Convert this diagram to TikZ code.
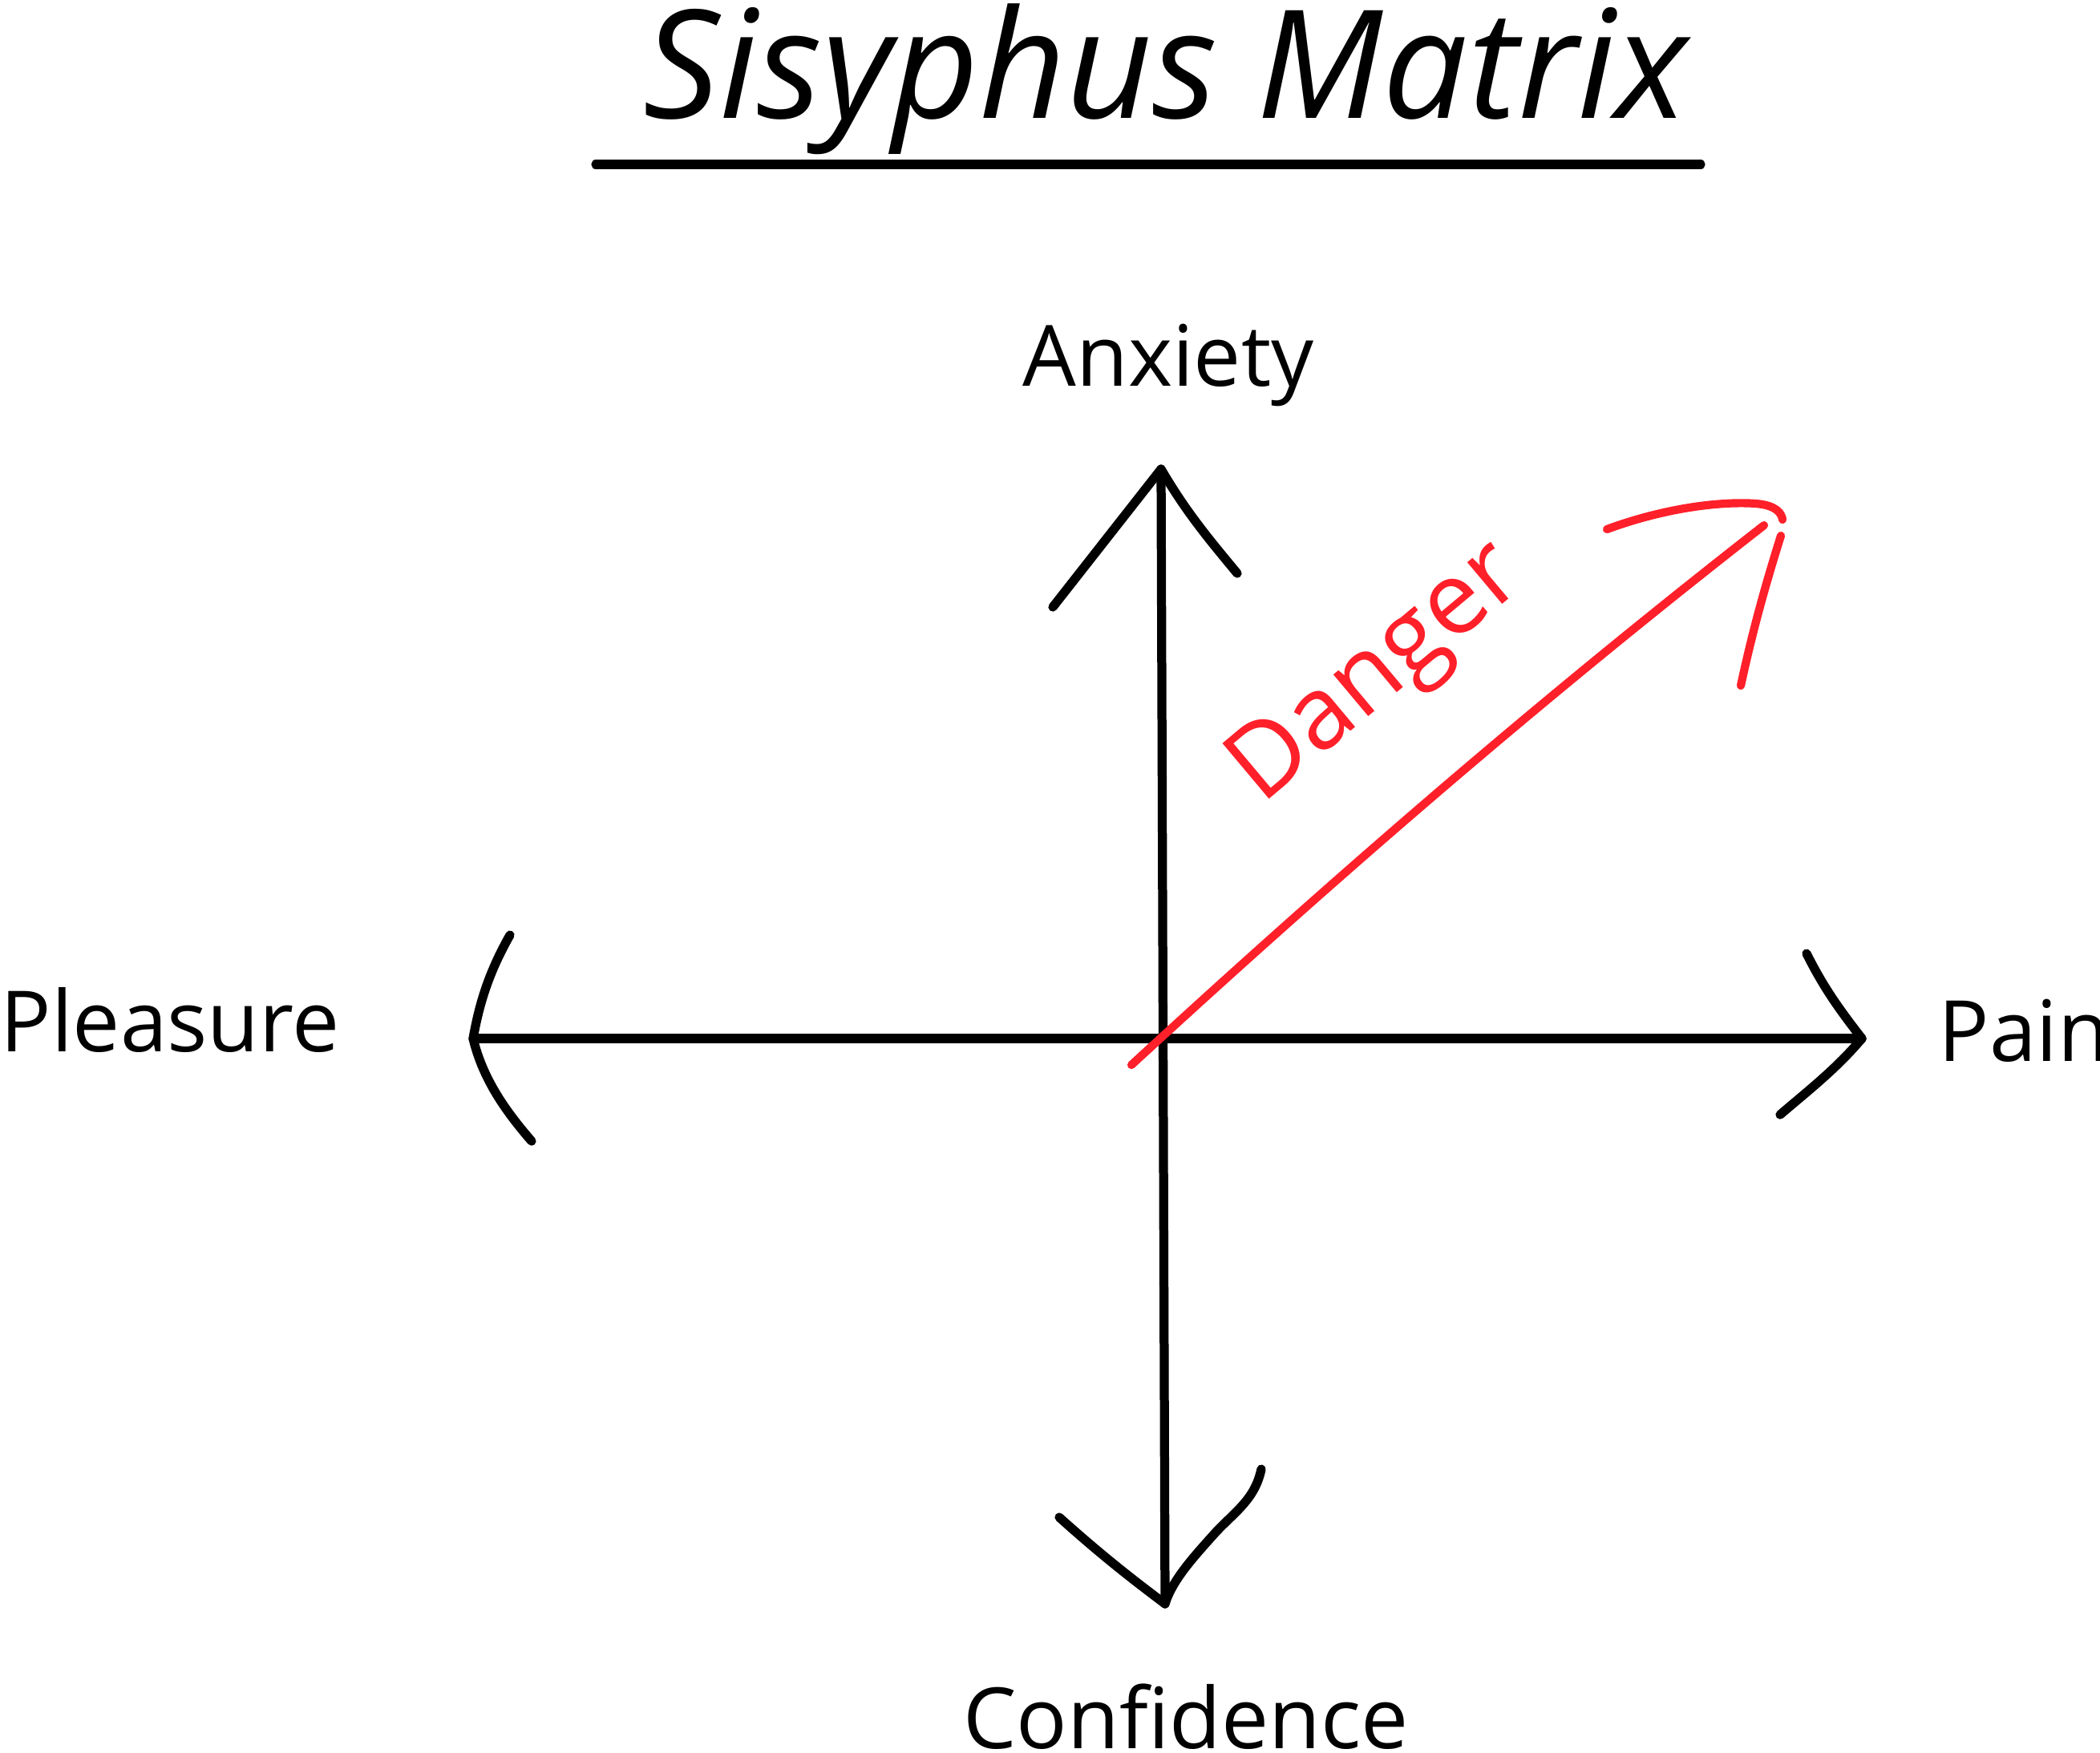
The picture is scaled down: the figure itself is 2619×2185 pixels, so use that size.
\documentclass[tikz,border=0pt]{standalone}
\usepackage{fontspec}
\setmainfont{Open Sans}
\usepackage{tikz}
\usetikzlibrary{positioning}
\definecolor{dangerred}{RGB}{255,32,42}

\begin{document}
\begin{tikzpicture}[x=0.1mm,y=-0.1mm,
  axis/.style={line width=3.2pt,line cap=round,line join=round},
  redline/.style={dangerred,line width=2.9pt,line cap=round},
  axislabel/.style={font=\fontsize{30}{36}\selectfont,inner sep=0pt}]
\useasboundingbox (0,0) rectangle (2619,2185);

% title
\node[anchor=base west,inner sep=0pt,font=\fontsize{53.5}{60}\selectfont\itshape] (title) at (802,147) {Sisyphus Matrix};
\draw[axis] (743,205) -- (2121,205);

% axes
\coordinate (O) at (1450,1295);
\coordinate (top) at (1448,585);
\coordinate (bot) at (1453,2000);
\coordinate (lft) at (590,1295);
\coordinate (rgt) at (2322,1295);
\draw[axis] (lft) -- (rgt);
\draw[axis] (bot) -- (top);

% hand drawn heads
\draw[axis] (1313,757) -- (top) .. controls (1480,640) and (1510,675) .. (1543,715);
\draw[axis] (1321,1892) .. controls (1380,1945) and (1420,1975) .. (bot);
\draw[axis] (1573,1832) .. controls (1565,1870) and (1540,1885) .. (1515,1912) .. controls (1490,1940) and (1462,1970) .. (bot);
\draw[axis] (636,1166) .. controls (610,1212) and (598,1250) .. (lft) .. controls (602,1345) and (630,1385) .. (663,1423);
\draw[axis] (2253,1189) .. controls (2275,1233) and (2295,1260) .. (rgt) .. controls (2290,1333) and (2255,1360) .. (2220,1390);

\foreach \n/\a/\p/\t in {anx/base/{(1457,481)}/Anxiety,
                         pls/base west/{(0,1311)}/Pleasure,
                         pain/base west/{(2417,1323)}/Pain,
                         conf/base/{(1479,2180)}/Confidence}
  \node[axislabel,anchor=\a] (\n) at \p {\t};

% danger line
\coordinate (d0) at (1411,1328);
\coordinate (d1) at (2200,655);
\draw[redline] (d0) .. controls (1700,1062) and (1950,850) .. (d1);
\draw[redline] (2004,660) .. controls (2080,632) and (2150,625) .. (2190,628) .. controls (2215,630) and (2222,640) .. (2223,648);
\draw[redline] (2221,668) .. controls (2200,735) and (2185,790) .. (2171,855);
\node[dangerred,rotate=40,inner sep=0pt,font=\fontsize{36}{40}\selectfont] (danger) at (1720,843) {Danger};
\end{tikzpicture}
\end{document}
